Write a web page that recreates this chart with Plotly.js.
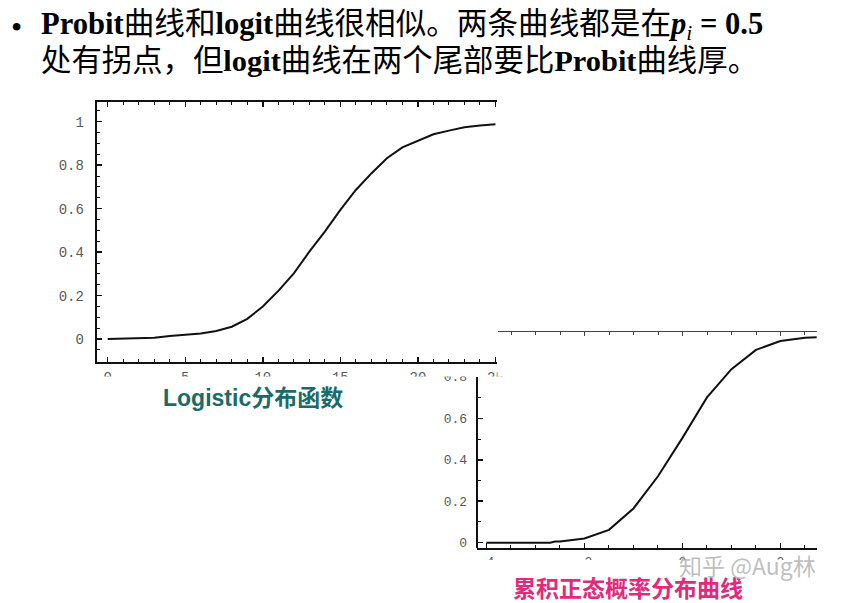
<!DOCTYPE html>
<html>
<head>
<meta charset="utf-8">
<script src="https://cdn.plot.ly/plotly-3.0.1.min.js"></script>
<style>
  html, body { margin: 0; padding: 0; background: #ffffff; }
  #chart { width: 843px; height: 603px; }
</style>
</head>
<body>
<div id="chart"></div>
<script>
// ---- data ----
const logisticX = [0, 1, 2, 3, 4, 5, 6, 7, 8, 9, 10, 11, 12, 13, 14, 15, 16, 17, 18, 19, 20, 21, 22, 23, 24, 25];
const logisticY = [0, 0.002, 0.006, 0.006, 0.014, 0.021, 0.026, 0.037, 0.057, 0.093, 0.150, 0.222, 0.302, 0.402, 0.494, 0.594, 0.686, 0.762, 0.832, 0.882, 0.913, 0.942, 0.959, 0.974, 0.982, 0.988];

const normalX = [-4, -3.5, -3, -2.7, -2.6, -2.5, -2, -1.5, -1, -0.5, 0, 0.5, 1, 1.5, 2, 2.5, 2.75];
const normalY = [0, 0, 0, 0, 0.006, 0.006, 0.02, 0.062, 0.165, 0.32, 0.505, 0.70, 0.836, 0.929, 0.972, 0.988, 0.99];

const logisticXTicks = [0, 5, 10, 15, 20, 25];
const logisticXTickText = ['0', '5', '10', '15', '20', '25'];
const logisticYTicks = [0, 0.2, 0.4, 0.6, 0.8, 1];
const logisticYTickText = ['0', '0.2', '0.4', '0.6', '0.8', '1'];
const normalXTicks = [-4, -2, 0, 2];
const normalXTickText = ['-4', '-2', '0', '2'];
const normalYTicks = [0, 0.2, 0.4, 0.6, 0.8];
const normalYTickText = ['0', '0.2', '0.4', '0.6', '0.8'];

const headerLine1 = '<b>Probit</b>曲线和<b>logit</b>曲线很相似。两条曲线都是在<b><i>p</i></b><sub><i>i</i></sub><b> = 0.5</b>';
const headerLine2 = '处有拐点，但<b>logit</b>曲线在两个尾部要比<b>Probit</b>曲线厚。';
const logisticTitle = 'Logistic分布函数';
const normalTitle = '累积正态概率分布曲线';
const watermark = '知乎 @Aug林';

// ---- page geometry helpers (pixels -> paper fractions) ----
const W = 843, H = 603;
const px = v => v / W;
const py = v => 1 - v / H;

const tickFont = {family: 'Liberation Mono, DejaVu Sans Mono, monospace', size: 14, color: '#5a5a5a'};
const tickFont2 = {family: 'Liberation Mono, DejaVu Sans Mono, monospace', size: 13, color: '#5a5a5a'};

const traces = [
  {x: logisticX, y: logisticY, xaxis: 'x', yaxis: 'y', type: 'scatter', mode: 'lines',
   line: {color: '#111111', width: 2}, hoverinfo: 'skip', showlegend: false},
  {x: normalX, y: normalY, xaxis: 'x2', yaxis: 'y2', type: 'scatter', mode: 'lines',
   line: {color: '#111111', width: 2}, hoverinfo: 'skip', showlegend: false},
  // empty helper traces so that the visible-part axes of the second plot get drawn
  {x: [], y: [], xaxis: 'x2', yaxis: 'y3', type: 'scatter', mode: 'lines', showlegend: false, hoverinfo: 'skip'},
  {x: [], y: [], xaxis: 'x4', yaxis: 'y2', type: 'scatter', mode: 'lines', showlegend: false, hoverinfo: 'skip'}
];

const layout = {
  width: W, height: H,
  margin: {l: 0, r: 0, t: 0, b: 0},
  paper_bgcolor: '#ffffff', plot_bgcolor: 'rgba(0,0,0,0)',
  showlegend: false,
  // ---- Logistic plot ----
  xaxis: {
    domain: [px(96.7), px(497)], range: [-0.71, 25.1], anchor: 'y',
    showgrid: false, zeroline: false, showline: true, linecolor: '#111', linewidth: 2,
    mirror: 'ticks',
    tickmode: 'array', tickvals: logisticXTicks, ticktext: logisticXTickText,
    ticks: 'inside', ticklen: 5, tickwidth: 1.5, tickcolor: '#111',
    minor: {ticks: 'inside', ticklen: 3, tickwidth: 1, tickcolor: '#111', dtick: 1, tick0: 0, showgrid: false},
    tickfont: tickFont, ticklabelstandoff: 1
  },
  yaxis: {
    domain: [py(361.7), py(101.7)], range: [-0.104, 1.092], anchor: 'x',
    showgrid: false, zeroline: false, showline: true, linecolor: '#111', linewidth: 2,
    tickmode: 'array', tickvals: logisticYTicks, ticktext: logisticYTickText,
    ticks: 'inside', ticklen: 5, tickwidth: 1.5, tickcolor: '#111',
    minor: {ticks: 'inside', ticklen: 3, tickwidth: 1, tickcolor: '#111', dtick: 0.05, tick0: 0, showgrid: false},
    tickfont: tickFont, ticklabelstandoff: 8
  },
  // ---- cumulative normal plot ----
  xaxis2: {
    domain: [px(476.7), px(816.7)], range: [-4.2, 2.74], anchor: 'y2',
    showgrid: false, zeroline: false, showline: true, linecolor: '#111', linewidth: 2,
    tickmode: 'array', tickvals: normalXTicks, ticktext: normalXTickText,
    ticks: 'inside', ticklen: 5, tickwidth: 1.5, tickcolor: '#111',
    minor: {ticks: 'inside', ticklen: 3, tickwidth: 1, tickcolor: '#111', dtick: 0.5, tick0: 0, showgrid: false},
    tickfont: tickFont2, ticklabelstandoff: 0
  },
  yaxis2: {
    domain: [py(548.3), py(331)], range: [-0.027, 1.02], anchor: 'x2',
    visible: false, showgrid: false, zeroline: false
  },
  yaxis3: {
    domain: [py(548.3), py(376.5)], range: [-0.027, 0.8015], anchor: 'free', position: px(476.7),
    showgrid: false, zeroline: false, showline: true, linecolor: '#111', linewidth: 2,
    tickmode: 'array', tickvals: normalYTicks, ticktext: normalYTickText,
    ticks: 'inside', ticklen: 5, tickwidth: 1.5, tickcolor: '#111',
    minor: {ticks: 'inside', ticklen: 3, tickwidth: 1, tickcolor: '#111', dtick: 0.1, tick0: 0, showgrid: false},
    tickfont: tickFont2, ticklabelstandoff: 6
  },
  xaxis4: {
    domain: [px(498), px(816.7)], range: [-3.77, 2.74], anchor: 'free', position: py(331), side: 'top',
    showgrid: false, zeroline: false, showline: true, linecolor: '#444', linewidth: 1.2,
    tickmode: 'array', tickvals: normalXTicks, showticklabels: false,
    ticks: 'inside', ticklen: 4, tickwidth: 1.2, tickcolor: '#444',
    minor: {ticks: 'inside', ticklen: 2.5, tickwidth: 1, tickcolor: '#444', dtick: 0.5, tick0: 0, showgrid: false}
  },
  // white covers reproducing the cropped edges of the two pasted pictures
  shapes: [
    {type: 'rect', layer: 'above', xref: 'paper', yref: 'paper', x0: px(80), x1: px(432), y0: py(388), y1: py(376.5), fillcolor: '#ffffff', line: {width: 0}},
    {type: 'rect', layer: 'above', xref: 'paper', yref: 'paper', x0: px(481), x1: px(515), y0: py(388), y1: py(376.5), fillcolor: '#ffffff', line: {width: 0}},
    {type: 'rect', layer: 'above', xref: 'paper', yref: 'paper', x0: px(497.5), x1: px(515), y0: py(376.5), y1: py(363), fillcolor: '#ffffff', line: {width: 0}},
    {type: 'rect', layer: 'above', xref: 'paper', yref: 'paper', x0: px(436), x1: px(474), y0: py(376.5), y1: py(365), fillcolor: '#ffffff', line: {width: 0}},
    {type: 'rect', layer: 'above', xref: 'paper', yref: 'paper', x0: px(465), x1: px(843), y0: py(603), y1: py(560), fillcolor: '#ffffff', line: {width: 0}}
  ],
  annotations: [
    {xref: 'paper', yref: 'paper', x: px(16), y: py(27), xanchor: 'center', yanchor: 'middle', showarrow: false,
     text: '•', font: {family: 'Liberation Serif, serif', size: 32, color: '#000'}},
    {xref: 'paper', yref: 'paper', x: px(39), y: py(26), xanchor: 'left', yanchor: 'middle', showarrow: false,
     text: headerLine1, font: {family: 'Liberation Serif, Noto Sans CJK SC, serif', size: 30.6, color: '#000'}},
    {xref: 'paper', yref: 'paper', x: px(39), y: py(61), xanchor: 'left', yanchor: 'middle', showarrow: false,
     text: headerLine2, font: {family: 'Liberation Serif, Noto Sans CJK SC, serif', size: 30.4, color: '#000'}},
    {xref: 'paper', yref: 'paper', x: px(253.5), y: py(398), xanchor: 'center', yanchor: 'middle', showarrow: false,
     text: '<b>' + logisticTitle + '</b>', font: {family: 'Liberation Sans, Noto Sans CJK SC, sans-serif', size: 23, color: '#1b6b69'}},
    {xref: 'paper', yref: 'paper', x: px(628), y: py(586.5), xanchor: 'center', yanchor: 'middle', showarrow: false,
     text: '<b>' + normalTitle + '</b>', font: {family: 'Noto Sans CJK SC, sans-serif', size: 23, color: '#e3297a'}},
    {xref: 'paper', yref: 'paper', x: px(747), y: py(565), xanchor: 'center', yanchor: 'middle', showarrow: false,
     text: watermark, font: {family: 'Noto Sans CJK SC, sans-serif', size: 23, color: 'rgba(170,170,170,0.75)'}}
  ]
};

Plotly.newPlot('chart', traces, layout, {staticPlot: true, displayModeBar: false});
</script>
</body>
</html>
